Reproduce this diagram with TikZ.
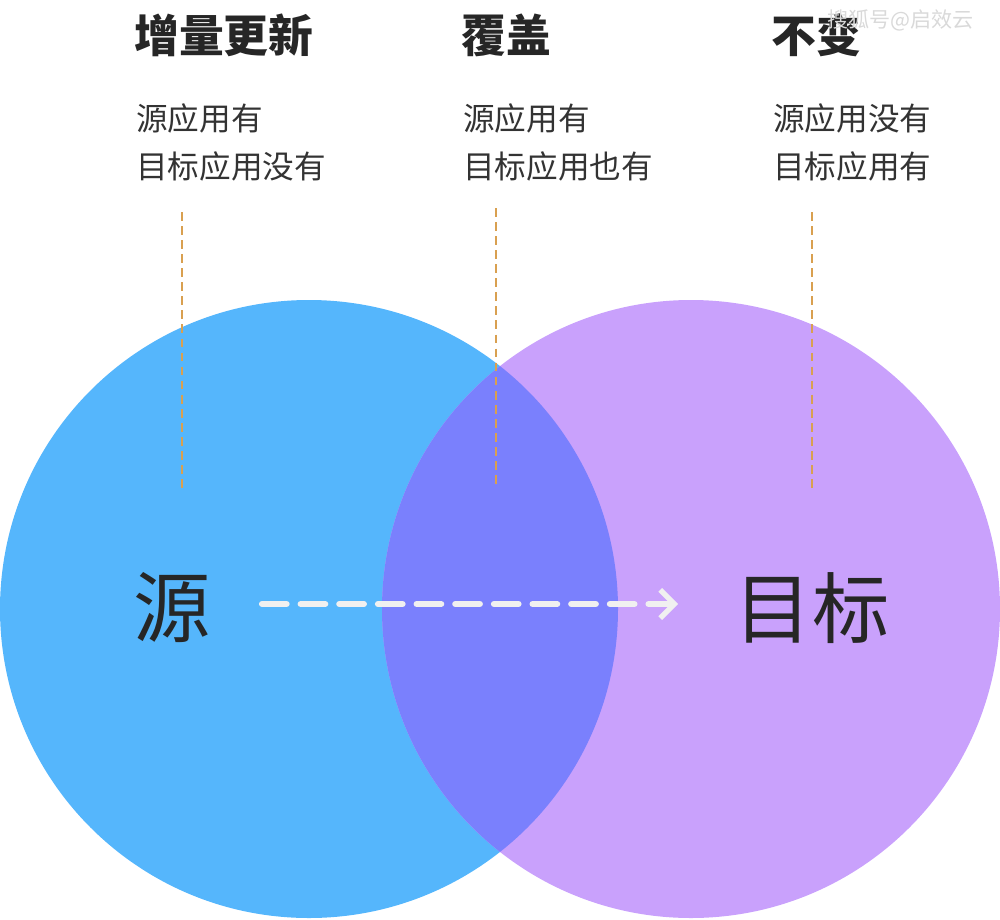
\documentclass[tikz,border=0pt]{standalone}
\usepackage{fontspec}
\setmainfont{Noto Sans CJK SC}
\usetikzlibrary{arrows.meta}
\definecolor{srcblue}{HTML}{55B6FC}
\definecolor{tgtpurple}{HTML}{C9A1FC}
\definecolor{overlap}{HTML}{7A80FD}
\definecolor{guide}{HTML}{D9A050}
\tikzset{
  title/.style={anchor=west, font=\fontsize{25.5}{30}\selectfont\bfseries, text=black!85},
  note/.style={anchor=west, font=\fontsize{18}{22}\selectfont, text=black!80},
  big/.style={font=\fontsize{44}{50}\selectfont, text=black!85},
  guideline/.style={guide, dashed, line width=1.5pt, dash pattern=on 5pt off 3pt}
}
\begin{document}
\begin{tikzpicture}[x=0.02cm, y=-0.02cm]
\useasboundingbox (0,0) rectangle (1000,919);
% circles
\fill[srcblue] (309,609) circle (309);
\fill[tgtpurple] (691,609) circle (309);
\begin{scope}
  \clip (309,609) circle (309);
  \fill[overlap] (691,609) circle (309);
\end{scope}
% headings
\node[title] (t1) at (128,35) {增量更新};
\node[title] (t2) at (455,35) {覆盖};
\node[title] (t3) at (765,35) {不变};
\node[anchor=east, font=\fontsize{12}{14}\selectfont, text=black!15] (wm) at (980,20) {搜狐号@启效云};
% notes
\node[note] (n1a) at (130,118) {源应用有};
\node[note] (n1b) at (130,166) {目标应用没有};
\node[note] (n2a) at (457,118) {源应用有};
\node[note] (n2b) at (457,166) {目标应用也有};
\node[note] (n3a) at (767,118) {源应用没有};
\node[note] (n3b) at (767,166) {目标应用有};
% guides
\coordinate (g1s) at (182,212); \coordinate (g1e) at (182,490);
\coordinate (g2s) at (496,208); \coordinate (g2e) at (496,487);
\coordinate (g3s) at (812,212); \coordinate (g3e) at (812,490);
\draw[guideline] (g1s) -- (g1e);
\draw[guideline] (g2s) -- (g2e);
\draw[guideline] (g3s) -- (g3e);
% labels
\node[big] (src) at (172,608) {源};
\node[big] (tgt) at (812,608) {目标};
\coordinate (as) at (262,604);
\coordinate (ae) at (678,604);
\draw[white!88!gray, line width=3.5pt, line cap=round, dash pattern=on 14pt off 8pt,
  -{Straight Barb[length=8pt,width=16pt,line width=3pt]}] (as) -- (ae);
\end{tikzpicture}
\end{document}
